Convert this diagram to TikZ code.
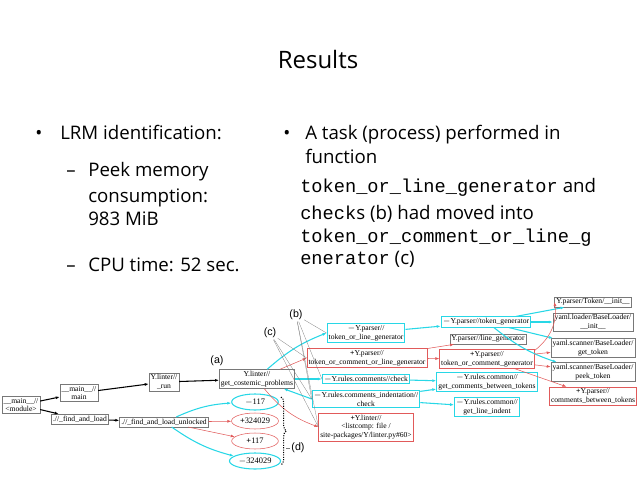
\documentclass[tikz,border=0pt]{standalone}
\usepackage{fontspec}
\setmainfont{Open Sans}
\newfontfamily\graphfont{Liberation Serif}
\newfontfamily\labfont{Liberation Sans}
\setmonofont{Liberation Mono}
\usetikzlibrary{arrows.meta,decorations.pathreplacing,shapes.geometric}
\definecolor{cedge}{RGB}{40,215,230}
\definecolor{redge}{RGB}{225,90,90}
\definecolor{gedge}{RGB}{120,120,120}
\tikzset{
  slide/.style={anchor=base west,inner sep=0pt,font=\fontsize{14}{16}\selectfont},
  box/.style={draw=gedge,inner sep=1.2pt,align=center,font=\graphfont\fontsize{5.7}{6.6}\selectfont},
  rbox/.style={box,draw=redge},
  cbox/.style={box,draw=cedge,thick},
  rell/.style={box,draw=redge,ellipse,minimum width=35pt,minimum height=12pt,font=\graphfont\fontsize{6.3}{7}\selectfont},
  cell/.style={rell,draw=cedge,thick},
  e/.style={-{Latex[length=3pt,width=2.2pt]},thick},
  re/.style={-{Latex[length=3pt,width=2.2pt]},redge},
  ce/.style={-{Latex[length=3pt,width=2.2pt]},cedge,thick},
  ge/.style={gedge,very thin},
  lab/.style={font=\labfont\fontsize{8}{9}\selectfont,inner sep=1pt}
}
\begin{document}
\begin{tikzpicture}[x=0.75pt,y=-0.75pt]
\useasboundingbox (0,0) rectangle (638,478);
% slide text
\node[font=\fontsize{18}{20}\selectfont] (title) at (318,60) {Results};
\node[slide] (b1) at (35,139) {\textbullet};
\node[slide] (t1) at (60,139) {LRM identification:};
\node[slide] (d1) at (66,176) {–};
\node[slide] (t2) at (88,176) {Peek memory};
\node[slide] (t3) at (88,202) {consumption:};
\node[slide] (t4) at (88,225) {983 MiB};
\node[slide] (d2) at (66,271) {–};
\node[slide] (t5) at (88,271) {CPU time: 52 sec.};
\node[slide] (b2) at (283,139) {\textbullet};
\node[slide] (r1) at (305,139) {A task (process) performed in};
\node[slide] (r2) at (305,163) {function};
\node[slide] (r3) at (300,192) {\texttt{token\_or\_line\_generator} and};
\node[slide] (r4) at (300,219) {\texttt{check}s (b) had moved into};
\node[slide] (r5) at (300,242) {\texttt{token\_or\_comment\_or\_line\_g}};
\node[slide] (r6) at (300,264) {\texttt{enerator} (c)};
% call graph
\node[box] (mod) at (21,405) {\_\_main\_\_//\\<module>};
\node[box] (mainf) at (79,393) {\_\_main\_\_//\\main};
\node[box] (run) at (164,382) {Y.linter//\\\_run};
\node[box] (cos) at (257,379) {Y.linter//\\get\_costemic\_problems};
\node[box] (fal) at (80,419) {.//\_find\_and\_load};
\node[box] (falu) at (164,422) {.//\_find\_and\_load\_unlocked};
\node[cell] (m117) at (255,402) {\textbf{$-$}117};
\node[rell] (p324) at (255,421) {\textbf{+}324029};
\node[rell] (p117) at (255,441) {\textbf{+}117};
\node[cell] (m324) at (255,461) {\textbf{$-$}324029};
\node[cbox] (tlg) at (366,333) {\textbf{$-$}Y.parser//\\token\_or\_line\_generator};
\node[rbox] (tclg) at (367,358) {\textbf{+}Y.parser//\\token\_or\_comment\_or\_line\_generator};
\node[cbox] (cchk) at (366,379) {\textbf{$-$}Y.rules.comments//check};
\node[cbox] (ichk) at (366,399) {\textbf{$-$}Y.rules.comments\_indentation//\\check};
\node[rbox] (lcomp) at (366,427) {\textbf{+}Y.linter//\\<listcomp: file /\\site-packages/Y/linter.py\#60>};
\node[cbox] (tg) at (486,322) {\textbf{$-$}Y.parser//token\_generator};
\node[box] (lg) at (488,339) {Y.parser//line\_generator};
\node[rbox] (tcg) at (487,359) {\textbf{+}Y.parser//\\token\_or\_comment\_generator};
\node[cbox] (gcbt) at (487,382) {\textbf{$-$}Y.rules.common//\\get\_comments\_between\_tokens};
\node[cbox] (gli) at (487,407) {\textbf{$-$}Y.rules.common//\\get\_line\_indent};
\node[box] (tinit) at (593,302) {Y.parser/Token/\_\_init\_\_};
\node[box] (linit) at (593,322) {yaml.loader/BaseLoader/\\\_\_init\_\_};
\node[box] (gtok) at (593,348) {yaml.scanner/BaseLoader/\\get\_token};
\node[box] (ptok) at (593,372) {yaml.scanner/BaseLoader/\\peek\_token};
\node[rbox] (cbt) at (593,396) {\textbf{+}Y.parser//\\comments\_between\_tokens};
\draw[e] (mod) -- (mainf);
\draw[e] (mainf) -- (run);
\draw[e] (run) -- (cos);
\draw[e] (mod) -- (fal);
\draw[e] (fal) -- (falu);
\draw[ce] (falu) to[bend left=10] (m117);
\draw[re] (falu) -- (p324);
\draw[re] (falu) -- (p117);
\draw[ce] (falu) to[bend right=10] (m324);
\draw[ce] (cos) to[bend left=10] (tlg.west);
\draw[re] (cos) -- (tclg.west);
\draw[ce] (cos) -- (cchk.west);
\draw[ce] (ichk.west) -- (cos);
\draw[re] (cos) to[bend right=15] (lcomp.west);
\draw[ce] (tlg) -- (tg);
\draw[re] (tclg) -- (lg);
\draw[re] (tclg) -- (tcg);
\draw[ce] (cchk) -- (gcbt);
\draw[ce] (ichk) -- (gcbt);
\draw[ce] (ichk) -- (gli);
\draw[ce] (tg) -- (tinit);
\draw[ce] (tg) -- (linit);
\draw[ce] (tg) -- (gtok);
\draw[ce] (tg) to[bend right=10] (ptok);
\draw[re] (tcg) to[bend right=30] (tinit.west);
\draw[re] (tcg) -- (gtok);
\draw[re] (tcg) -- (ptok);
\draw[re] (tcg) -- (cbt);
% labels
\node[lab] (la) at (217,361) {(a)};
\node[lab] (lb) at (296,315) {(b)};
\node[lab] (lc) at (270,333) {(c)};
\node[lab] (ld) at (298,448) {(d)};
\draw[ge] (lb) -- (tlg.west);
\draw[ge] (lb) -- (cchk.west);
\draw[ge] (lb) -- (ichk.west);
\draw[ge] (lb) -- (lcomp.west);
\draw[ge] (lc) -- (tclg.west);
\draw[ge] (lc) -- (ichk.west);
\draw[ge] (lc) -- (lcomp.west);
\draw[densely dotted,thick,decorate,decoration={brace,amplitude=4pt}] (281,397) -- (281,465);
\draw[ge] (ld.west) -- (286,448);
\end{tikzpicture}
\end{document}
